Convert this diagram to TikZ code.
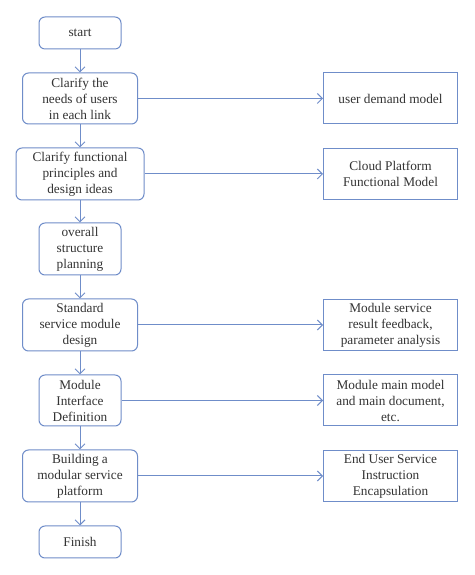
\documentclass[tikz,border=0pt]{standalone}
\usepackage{fontspec}
\setmainfont{Liberation Serif}
\usetikzlibrary{arrows.meta}
\definecolor{boxblue}{HTML}{6F8DC9}
\definecolor{txt}{HTML}{333333}
\begin{document}
\begin{tikzpicture}[x=1pt,y=1pt,
  every node/.style={font=\fontsize{13.3}{16}\selectfont, text=txt, align=center, inner sep=0pt},
  flow/.style={draw=boxblue, line width=1pt, rounded corners=6pt},
  outbox/.style={draw=boxblue, line width=1pt, minimum width=134pt, minimum height=51pt},
  conn/.style={draw=boxblue, line width=1pt, -{Straight Barb[length=5pt,width=10pt,line width=1pt]}}
]
\useasboundingbox (0,0) rectangle (474,575);
\fill[white] (0,0) rectangle (474,575);
\node[flow, minimum width=82pt, minimum height=32pt] (start) at (80,542) {start};
\node[flow, minimum width=115pt, minimum height=51pt] (needs) at (80,476.5) {Clarify the\\needs of users\\in each link};
\node[flow, minimum width=128pt, minimum height=52pt] (func) at (80,401) {Clarify functional\\principles and\\design ideas};
\node[flow, minimum width=82pt, minimum height=52pt] (overall) at (80,326) {overall\\structure\\planning};
\node[flow, minimum width=115pt, minimum height=52pt] (std) at (80,250) {Standard\\service module\\design};
\node[flow, minimum width=82pt, minimum height=51pt] (iface) at (80,174.5) {Module\\Interface\\Definition};
\node[flow, minimum width=115pt, minimum height=52pt] (build) at (80,99) {Building a\\modular service\\platform};
\node[flow, minimum width=82pt, minimum height=32pt] (finish) at (80,33) {Finish};

\node[outbox] (udm) at (390.5,476.5) {user demand model};
\node[outbox] (cpf) at (390.5,401) {Cloud Platform\\Functional Model};
\node[outbox] (msr) at (390.5,250) {Module service\\result feedback,\\parameter analysis};
\node[outbox] (mmm) at (390.5,174.5) {Module main model\\and main document,\\etc.};
\node[outbox] (eus) at (390.5,99) {End User Service\\Instruction\\Encapsulation};

\draw[conn] (start) -- (needs);
\draw[conn] (needs) -- (func);
\draw[conn] (func) -- (overall);
\draw[conn] (overall) -- (std);
\draw[conn] (std) -- (iface);
\draw[conn] (iface) -- (build);
\draw[conn] (build) -- (finish);

\draw[conn] (needs) -- (udm);
\draw[conn] (func) -- (cpf);
\draw[conn] (std) -- (msr);
\draw[conn] (iface) -- (mmm);
\draw[conn] (build) -- (eus);
\end{tikzpicture}
\end{document}
